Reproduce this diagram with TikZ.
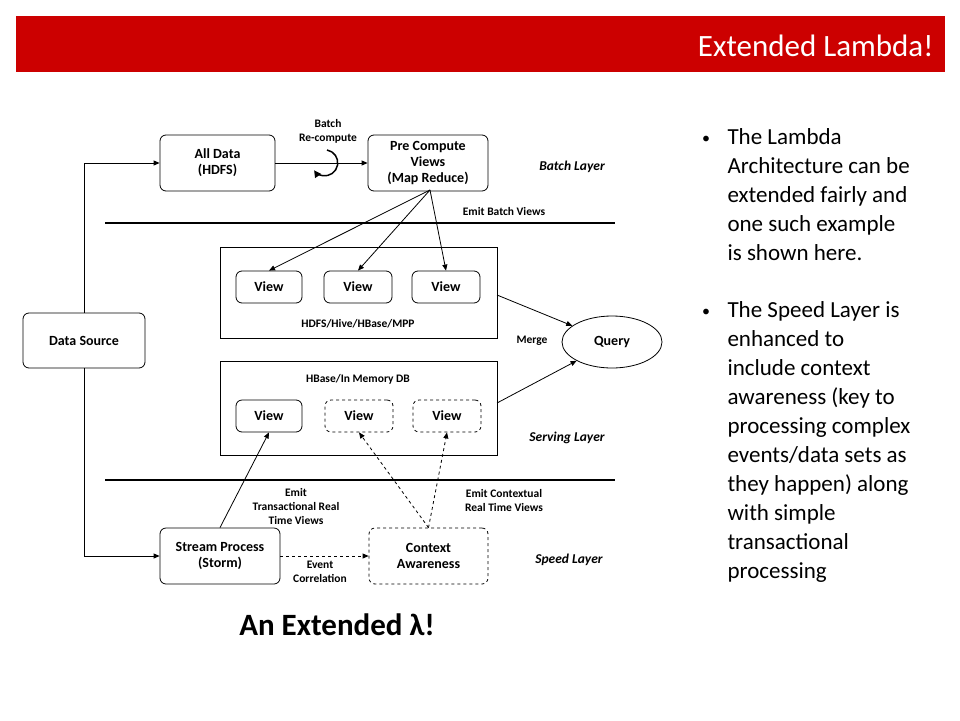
\documentclass[tikz,border=0pt]{standalone}
\usepackage{fontspec}
\setmainfont{Carlito}
\usetikzlibrary{arrows.meta,shapes.geometric}
\begin{document}
\begin{tikzpicture}[x=1pt,y=-1pt,
 box/.style={draw,rounded corners=6pt,line width=0.8pt,align=center,font=\fontsize{14}{16}\selectfont\bfseries,inner sep=0pt},
 lbl/.style={align=center,font=\fontsize{11.5}{14}\selectfont\bfseries},
 layer/.style={font=\fontsize{13.5}{15}\selectfont\bfseries\itshape},
 arr/.style={-{Triangle[length=6pt,width=5pt]},line width=0.8pt},
 dsh/.style={dashed},
 btxt/.style={anchor=north west,text width=186pt,align=flush left,font=\fontsize{23}{29}\selectfont}]
\useasboundingbox (0,0) rectangle (960,720);
\fill[white] (0,0) rectangle (960,720);
\fill[red!80!black] (16,16) rectangle (945,72);
\node[anchor=east,text=white,font=\fontsize{31}{34}\selectfont] (title) at (937,46) {Extended Lambda!};
% boxes
\node[box,minimum width=115pt,minimum height=56pt] (all) at (217.5,163) {All Data\\(HDFS)};
\node[box,minimum width=120pt,minimum height=56pt] (pre) at (428,163) {Pre Compute\\Views\\(Map Reduce)};
\node[box,minimum width=122pt,minimum height=55pt] (ds) at (84,340.5) {Data Source};
\node[box,minimum width=120pt,minimum height=56pt] (sp) at (220,556) {Stream Process\\(Storm)};
\node[box,dsh,minimum width=119pt,minimum height=56pt] (ca) at (428.5,556) {Context\\Awareness};
\node[draw,line width=0.8pt,minimum width=277pt,minimum height=91pt,inner sep=0pt] (hdfs) at (358.5,292.5) {};
\node[draw,line width=0.8pt,minimum width=277pt,minimum height=94pt,inner sep=0pt] (hb) at (358.5,408) {};
\node[box,minimum width=66pt,minimum height=32pt] (v1) at (269,287) {View};
\node[box,minimum width=68pt,minimum height=32pt] (v2) at (358,287) {View};
\node[box,minimum width=68pt,minimum height=32pt] (v3) at (446,287) {View};
\node[box,minimum width=66pt,minimum height=32pt] (w1) at (269,416) {View};
\node[box,dsh,minimum width=68pt,minimum height=32pt] (w2) at (359,416) {View};
\node[box,dsh,minimum width=68pt,minimum height=32pt] (w3) at (447,416) {View};
\node[draw,ellipse,line width=0.8pt,minimum width=100pt,minimum height=52pt,inner sep=0pt,font=\fontsize{14}{16}\selectfont\bfseries] (q) at (612,342) {Query};
% labels
\node[lbl] (l1) at (328,131) {Batch\\Re-compute};
\node[lbl] (l2) at (504,212) {Emit Batch Views};
\node[lbl] (l3) at (358,324) {HDFS/Hive/HBase/MPP};
\node[lbl] (l4) at (358,379) {HBase/In Memory DB};
\node[lbl] (l5) at (532,341) {Merge};
\node[lbl] (l6) at (296,506) {Emit\\Transactional Real\\Time Views};
\node[lbl] (l7) at (504,500) {Emit Contextual\\Real Time Views};
\node[lbl] (l8) at (320,572) {Event\\Correlation};
\node[layer] (b1) at (572,167) {Batch Layer};
\node[layer] (b2) at (567,438) {Serving Layer};
\node[layer] (b3) at (569,560) {Speed Layer};
\node[font=\fontsize{31}{34}\selectfont\bfseries] (ext) at (337,625) {An Extended λ!};
% lines
\coordinate (a1) at (105,223); \coordinate (a2) at (615,223);
\coordinate (c1) at (105,480); \coordinate (c2) at (615,480);
\draw[line width=1.8pt] (a1) -- (a2);
\draw[line width=1.8pt] (c1) -- (c2);
% connectors
\draw[arr] (all) -- (pre);
\draw[line width=1.5pt,-{Triangle[length=7pt,width=7pt]}] (327,150) arc[start angle=-80,end angle=145,radius=13];
\draw[arr] (ds.north) |- (all.west);
\draw[arr] (ds.south) |- (sp.west);
\coordinate (pb) at (430,190);
\draw[arr] (pb) -- (v1.north);
\draw[arr] (pb) -- (v2.north);
\draw[arr] (pb) -- (v3.north);
\coordinate (h1) at (497,295); \coordinate (h2) at (497,403);
\draw[arr] (h1) -- (q);
\draw[arr] (h2) -- (q);
\draw[arr] (sp.north) -- (w1.south);
\draw[arr,dsh] (ca.north) -- (w2.south);
\draw[arr,dsh] (ca.north) -- (w3.south);
\draw[arr,dsh] (sp.east) -- (ca.west);
% bullets
\node[btxt] (t1) at (724,125) {The Lambda Architecture can be extended fairly and one such example is shown here.};
\node[btxt] (t2) at (724,298) {The Speed Layer is enhanced to include context awareness (key to processing complex events/data sets as they happen) along with simple transactional processing};
\node[font=\fontsize{16}{16}\selectfont] (d1) at (706,140) {•};
\node[font=\fontsize{16}{16}\selectfont] (d2) at (706,313) {•};
\end{tikzpicture}
\end{document}
